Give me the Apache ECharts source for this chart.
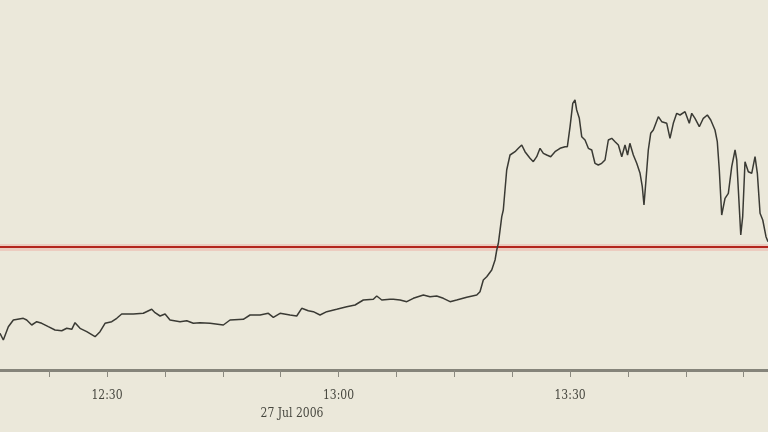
<!DOCTYPE html>
<html>
<head>
<meta charset="utf-8">
<script src="https://cdn.jsdelivr.net/npm/echarts@6/dist/echarts.min.js"></script>
<style>
html,body{margin:0;padding:0;background:#ebe8da;}
#chart{width:768px;height:432px;}
</style>
</head>
<body>
<div id="chart"></div>
<script>
// time in minutes after 12:00 on 27 Jul 2006
var minutes = [16.13,16.56,17.21,17.86,19.15,19.59,20.24,20.89,21.54,22.39,23.26,24.13,24.78,25.43,25.85,26.50,27.37,28.45,29.09,29.74,
30.61,31.26,31.90,33.41,34.70,35.79,36.22,36.87,37.52,38.16,39.46,40.33,41.18,42.05,43.35,45.07,45.94,47.66,48.53,49.83,
50.90,51.55,52.42,53.71,54.58,55.23,56.08,56.73,57.60,58.47,59.76,61.06,62.14,63.21,64.51,64.95,65.60,66.67,67.10,67.97,
68.84,69.69,70.99,71.85,72.72,73.58,74.45,75.31,76.61,77.91,78.33,78.76,79.20,79.85,80.28,80.50,80.71,81.15,81.35,81.79,
82.22,82.87,83.30,83.74,84.16,84.81,85.24,85.68,86.11,86.54,86.98,87.49,88.05,88.70,89.35,89.65,90.00,90.35,90.64,90.86,
91.20,91.51,91.94,92.37,92.81,93.02,93.23,93.66,94.10,94.53,94.96,95.40,95.83,96.26,96.70,97.12,97.45,97.75,98.20,98.64,
99.07,99.36,99.58,99.84,100.14,100.45,100.79,101.44,101.88,102.53,102.95,103.38,103.82,104.25,104.90,105.45,105.77,106.19,106.75,107.27,
107.79,108.23,108.78,109.08,109.34,109.65,110.08,110.51,110.95,111.38,111.60,111.81,112.12,112.37,112.67,113.10,113.54,113.97,114.27,114.62,
114.97,115.39,115.65];
var prices = [36.7,30,43.3,50,51.7,50,45,48.3,46.7,43.3,40,39.3,41.7,40.7,47.3,41.7,38.3,33.3,38.3,46.7,
48.3,51.7,56,56,56.7,60.7,57.3,54,56,50,48.3,49.3,46.7,47.3,46.7,45,50,50.7,55,55,
56.7,52.7,56.7,55,54,61.7,59.3,58.3,55,58.3,60.7,63.3,65,70,70.7,74,70,70.7,70.7,70,
68.3,71.7,75,73.3,74,71.7,68.3,70,72.7,75,78.3,90,93.3,100,110,120,126.7,153.3,160,200,
215,218.3,221.7,225,218.3,211.7,208.3,213.3,221.7,216.7,215,213.3,218.3,221.7,223.3,223.3,243.3,266.7,270,260,
251.7,233.3,230,221.7,220,213.3,206.7,205,206.7,210,230,231.7,228.3,225,213.3,225,215,226.7,215,206.7,
196.7,183.3,165,190,220,236.7,240,253.3,248.3,246.7,231.7,246.7,256.7,255,258.3,246.7,256.7,251.7,243.3,251.7,
255,250,240,228.3,200,155,171.7,176.7,203.3,220,210,180,135,153.3,208.3,198.3,196.7,213.3,196.7,156.7,
150,133.3,128.3];
var referenceLevel = 123;
var tickMinutes = [22.5,30,37.5,45,52.5,60,67.5,75,82.5,90,97.5,105,112.5];
var labelMinutes = [30,60,90];
var dateLabel = '27 Jul 2006';

function fmt(m){
  var h = 12 + Math.floor(m/60);
  var mm = Math.round(m % 60);
  return h + ':' + (mm < 10 ? '0' + mm : mm);
}

var data = minutes.map(function(m,i){ return [m, prices[i]]; });
var FONT = '"DejaVu Serif Condensed", "DejaVu Serif", "Liberation Serif", serif';

var chart = echarts.init(document.getElementById('chart'), null, {renderer:'canvas'});
chart.setOption({
  backgroundColor: '#ebe8da',
  animation: false,
  grid: {left: 0, right: 0, top: 0, bottom: 62},
  xAxis: {
    type: 'value',
    min: minutes[0],
    max: minutes[minutes.length-1],
    splitLine: {show: false},
    axisLine: {show: true, lineStyle: {color: '#85847a', width: 3}},
    axisTick: {show: true, customValues: tickMinutes, length: 7, lineStyle: {color: '#8a897f', width: 1}},
    axisLabel: {show: true, customValues: labelMinutes, formatter: fmt, margin: 20,
      fontFamily: FONT, fontSize: 12, color: '#46463e'}
  },
  yAxis: {
    type: 'value', min: 0, max: 370, show: false, splitLine: {show: false}
  },
  graphic: [{
    type: 'text',
    style: {text: dateLabel, x: 292, y: 414, textAlign: 'center', textVerticalAlign: 'middle',
      font: '12px ' + FONT, fill: '#46463e'}
  }],
  series: [{
    type: 'line',
    data: data,
    showSymbol: false,
    symbol: 'none',
    lineStyle: {color: '#3a3a34', width: 1.5},
    z: 3,
    markLine: {
      silent: true,
      symbol: 'none',
      label: {show: false},
      z: 2,
      data: [
        {yAxis: referenceLevel, lineStyle: {type: 'solid', width: 7, color: 'rgba(238,170,160,0.45)'}},
        {yAxis: referenceLevel, lineStyle: {type: 'solid', width: 2, color: '#b3261e'}}
      ]
    }
  }]
});
</script>
</body>
</html>
